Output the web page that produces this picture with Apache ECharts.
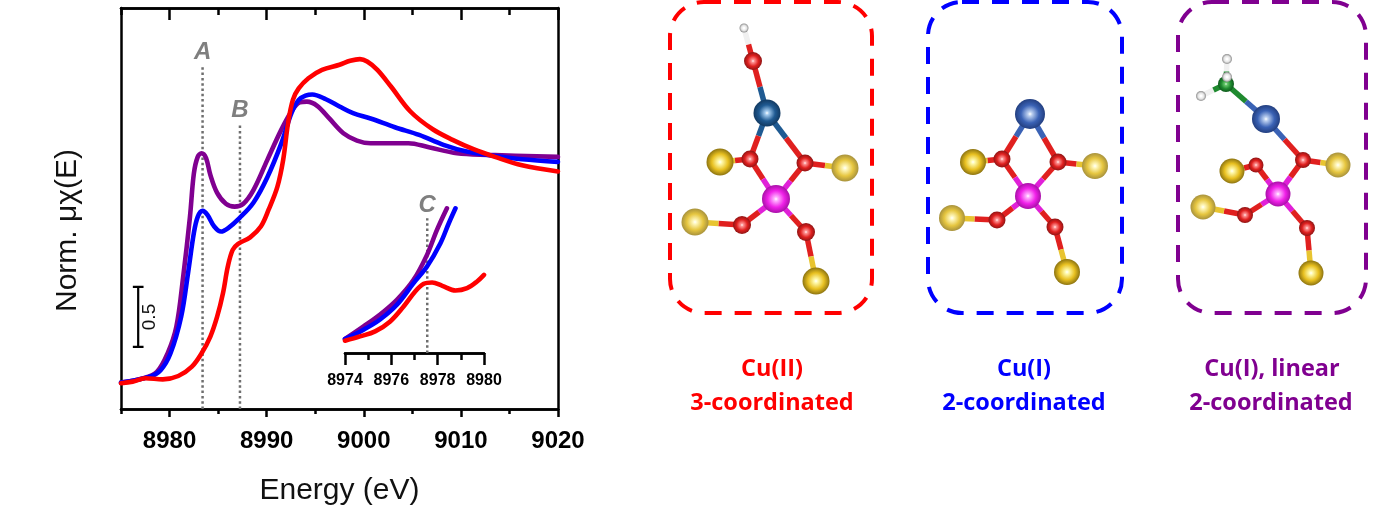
<!DOCTYPE html>
<html>
<head>
<meta charset="utf-8">
<title>Cu K-edge XANES</title>
<script src="https://cdn.jsdelivr.net/npm/echarts@6/dist/echarts.min.js"></script>
<style>
html, body { margin: 0; padding: 0; background: #fff; }
#chart { width: 1390px; height: 511px; }
</style>
</head>
<body>
<div id="chart"></div>
<script>
// main spectra, [energy eV, normalised absorption]
var redCurve = [[8975,0.214],[8976.2,0.228],[8977.5,0.256],[8979.3,0.247],[8980.9,0.275],[8982.3,0.353],[8983.3,0.464],[8984.2,0.603],[8984.9,0.769],[8985.5,0.964],[8986,1.186],[8986.5,1.325],[8987.06,1.375],[8988.3,1.43],[8989.4,1.52],[8990.2,1.66],[8991.1,1.85],[8991.7,2.075],[8992.2,2.38],[8992.7,2.575],[8993.3,2.67],[8994.3,2.755],[8995.7,2.825],[8997.5,2.867],[8998.6,2.9],[8999.6,2.914],[9000.35,2.894],[9001.4,2.825],[9002.8,2.686],[9004.8,2.478],[9007.1,2.33],[9009.2,2.24],[9011.3,2.164],[9013.5,2.1],[9016.3,2.03],[9020,1.978]];
var blueCurve = [[8975,0.22],[8978,0.27],[8979.1,0.325],[8980.1,0.464],[8981.2,0.77],[8981.9,1.13],[8982.5,1.464],[8982.9,1.6],[8983.4,1.65],[8983.9,1.617],[8984.6,1.52],[8985.3,1.478],[8986,1.505],[8987.2,1.59],[8988.65,1.72],[8990.07,1.93],[8991.5,2.21],[8992.55,2.464],[8993.3,2.575],[8994,2.61],[8994.7,2.62],[8996.1,2.58],[8997.5,2.52],[8998.9,2.464],[9000.7,2.42],[9003.2,2.347],[9005.7,2.283],[9008.2,2.2],[9010.6,2.144],[9013.5,2.108],[9016.3,2.08],[9020,2.058]];
var purpleCurve = [[8975,0.22],[8977.3,0.256],[8978.7,0.31],[8979.8,0.464],[8980.7,0.686],[8981.4,1.1],[8982.1,1.6],[8982.5,1.96],[8982.9,2.1],[8983.3,2.13],[8983.76,2.09],[8984.2,1.95],[8984.9,1.8],[8985.8,1.71],[8986.7,1.686],[8987.6,1.71],[8988.65,1.825],[8990.07,2.075],[8991.5,2.325],[8992.55,2.478],[8993.4,2.553],[8994.15,2.56],[8995.2,2.525],[8996.45,2.42],[8997.9,2.297],[8999.3,2.236],[9000.7,2.214],[9004.6,2.214],[9006.7,2.18],[9009.6,2.13],[9012.8,2.117],[9020,2.1]];

// inset, pre-edge region
var redInset = [[8974,0.37],[8974.65,0.5],[8975.3,0.65],[8975.95,0.95],[8976.53,1.4],[8977.03,1.85],[8977.4,2.08],[8977.76,2.12],[8978.2,2.02],[8978.77,1.88],[8979.27,1.95],[8979.7,2.15],[8980,2.35]];
var blueInset = [[8974,0.42],[8974.8,0.7],[8975.5,1],[8976.24,1.45],[8976.96,2.1],[8977.54,2.6],[8978.12,3.3],[8978.48,3.9],[8978.77,4.35]];
var purpleInset = [[8974,0.42],[8974.8,0.8],[8975.5,1.15],[8976.24,1.6],[8976.96,2.2],[8977.54,2.95],[8977.97,3.7],[8978.4,4.35]];

var xMajor = [8980, 8990, 9000, 9010, 9020];
var xMinor = [8975, 8985, 8995, 9005, 9015];
var insetMajor = [8974, 8976, 8978, 8980];
var insetMinor = [8975, 8977, 8979];

var lineA = [[8983.4, 0], [8983.4, 2.858]];
var lineB = [[8987.25, 0], [8987.25, 2.375]];
var lineC = [[8977.55, 0], [8977.55, 4.05]];

var scaleX = 8976.77;
var scaleTop = 1.017;
var scaleBottom = 0.517;
var scaleCap = 0.55;

var RED = '#ff0000', BLUE = '#0000ff', PURPLE = '#800090';
var GREY = '#7f7f7f';
var ARIAL = '"Liberation Sans", Arial, sans-serif';

var chart = echarts.init(document.getElementById('chart'));

function curve(data, color, width, xi, yi, z) {
    return {
        type: 'line', data: data, xAxisIndex: xi, yAxisIndex: yi,
        smooth: 0.35, showSymbol: false, silent: true, z: z,
        lineStyle: { color: color, width: width, cap: 'round' }
    };
}

function guide(data, letter, xi, yi) {
    return {
        type: 'line', data: data, xAxisIndex: xi, yAxisIndex: yi,
        symbol: 'none', silent: true, z: 1,
        lineStyle: { color: '#6e6e6e', width: 2.5, type: [2.5, 2.8] },
        markPoint: {
            symbol: 'circle', symbolSize: 0, silent: true,
            data: [{
                coord: data[1],
                label: {
                    show: true, position: 'top', distance: 1, formatter: letter,
                    color: GREY, fontFamily: ARIAL, fontSize: 24,
                    fontWeight: 'bold', fontStyle: 'italic'
                }
            }]
        }
    };
}

function xAxisCfg(grid, pos, ticks, len, inside, labels, min, max) {
    var cfg = {
        type: 'value', gridIndex: grid, position: pos, min: min, max: max,
        interval: 1, splitLine: { show: false },
        axisLine: { show: true, onZero: false, lineStyle: { color: '#000', width: 2.5 } },
        axisTick: {
            show: true, inside: inside, length: len, customValues: ticks,
            lineStyle: { color: '#000', width: 2.5 }
        },
        axisLabel: { show: false }
    };
    if (labels) cfg.axisLabel = labels;
    return cfg;
}

function plain(v) { return String(v); }

var mainLabels = {
    show: true, customValues: xMajor, margin: 20, color: '#000',
    fontFamily: ARIAL, fontSize: 24, fontWeight: 'bold', formatter: plain,
    alignMinLabel: 'center', alignMaxLabel: 'center', hideOverlap: false
};
var insetLabels = {
    show: true, customValues: insetMajor, margin: 20, color: '#000',
    fontFamily: ARIAL, fontSize: 16, fontWeight: 'bold', formatter: plain,
    alignMinLabel: 'center', alignMaxLabel: 'center', hideOverlap: false
};

// structure drawings
var ATOMS = {
    H: ['#ffffff', '#e4e4e4', '#8c8c8c'],
    O: ['#ff9a9a', '#e0201f', '#8f1414'],
    Si: ['#fffbb0', '#e8c020', '#8d7410'],
    Si2: ['#fff8c0', '#e6c640', '#a8923c'],
    Al: ['#ffb0ff', '#f020e8', '#a810a8'],
    Cu: ['#bcd0f0', '#3a62b5', '#233f80'],
    Cu2: ['#a6cdf0', '#1f5a92', '#123a62'],
    C: ['#6ccc70', '#1f8a2f', '#0f5a1c']
};
var BOND = { H: '#f0f0f0', O: '#e0201f', Si: '#e8c430', Si2: '#e8c430', Al: '#e020d8', Cu: '#3a62b5', Cu2: '#1f5a92', C: '#1f8a2f' };

var panels = [
    {
        color: RED, box: [670, 2, 202, 311],
        lines: [['Cu(II)', 772, 369], ['3-coordinated', 772, 403]],
        atoms: [['H',744,28,4.5],['O',753,61,9],['Cu2',767,113,13.5],['O',750,159,8.5],['O',805,163,8.5],['Si',720,162,13.5],['Si2',845,168,13.5],['Al',776,199,14],['O',742,225,9],['Si2',695,222,13.5],['O',806,232,9],['Si',816,281,13.5]],
        bonds: [[0,1],[1,2],[2,3],[2,4],[3,5],[4,6],[3,7],[4,7],[7,8],[7,10],[8,9],[10,11]]
    },
    {
        color: BLUE, box: [928, 2, 194, 311],
        lines: [['Cu(I)', 1024, 369], ['2-coordinated', 1024, 403]],
        atoms: [['Cu',1030,114,15],['O',1002,159,8.5],['O',1058,162,8.5],['Si',973,162,13],['Si2',1095,166,13],['Al',1028,196,13],['O',997,220,8.5],['Si2',952,218,13],['O',1055,227,8.5],['Si',1067,272,13]],
        bonds: [[0,1],[0,2],[1,3],[2,4],[1,5],[2,5],[5,6],[5,8],[6,7],[8,9]]
    },
    {
        color: PURPLE, box: [1178, 2, 188, 311],
        lines: [['Cu(I), linear', 1272, 369], ['2-coordinated', 1271, 403]],
        atoms: [['H',1227,59,5],['H',1201,96,5],['C',1226,84,8],['H',1227,77,5],['Cu',1266,119,14],['O',1303,160,8],['Si2',1338,165,12.5],['Si',1232,171,12.5],['O',1256,165,7.5],['Al',1278,194,12.5],['O',1245,215,8],['Si2',1203,207,12.5],['O',1307,228,8],['Si',1311,273,12.5]],
        bonds: [[0,2],[1,2],[2,4],[4,5],[5,6],[8,7],[8,9],[5,9],[9,10],[9,12],[10,11],[12,13]]
    }
];

var shapes = [];

function bond(a, b) {
    var mx = (a[1] + b[1]) / 2, my = (a[2] + b[2]) / 2;
    [[a, mx, my], [b, mx, my]].forEach(function (s) {
        shapes.push({
            type: 'line', silent: true, z: 10,
            shape: { x1: s[0][1], y1: s[0][2], x2: s[1], y2: s[2] },
            style: { stroke: BOND[s[0][0]], lineWidth: 5.5 }
        });
    });
}

function atom(a) {
    var c = ATOMS[a[0]];
    shapes.push({
        type: 'circle', silent: true, z: 11,
        shape: { cx: a[1], cy: a[2], r: a[3] },
        style: {
            fill: new echarts.graphic.RadialGradient(0.5, 0.5, 0.5, [
                { offset: 0, color: '#ffffff' },
                { offset: 0.14, color: c[0] },
                { offset: 0.6, color: c[1] },
                { offset: 1, color: c[2] }
            ])
        }
    });
}

panels.forEach(function (p) {
    shapes.push({
        type: 'rect', silent: true, z: 9,
        shape: { x: p.box[0], y: p.box[1], width: p.box[2], height: p.box[3], r: 34 },
        style: { fill: 'none', stroke: p.color, lineWidth: 4, lineDash: [17, 13] }
    });
    p.bonds.forEach(function (b) { bond(p.atoms[b[0]], p.atoms[b[1]]); });
    p.atoms.forEach(atom);
    p.lines.forEach(function (l) {
        shapes.push({
            type: 'text', silent: true, z: 12, x: l[1], y: l[2],
            style: {
                text: l[0], fill: p.color, align: 'center', verticalAlign: 'middle',
                fontFamily: '"Open Sans", sans-serif', fontSize: 23.5, fontWeight: 'bold'
            }
        });
    });
});

shapes.push({
    type: 'text', silent: true, z: 12, x: 150, y: 317, rotation: Math.PI / 2,
    style: {
        text: '0.5', fill: '#111', align: 'center', verticalAlign: 'middle',
        fontFamily: ARIAL, fontSize: 19
    }
});

var option = {
    animation: false,
    backgroundColor: '#fff',
    grid: [
        { left: 121, top: 8, width: 437, height: 401, outerBoundsMode: 'none' },
        { left: 345, top: 200, width: 139, height: 153, outerBoundsMode: 'none' }
    ],
    xAxis: [
        Object.assign(xAxisCfg(0, 'bottom', xMajor, 8, false, mainLabels, 8975, 9020), {
            name: 'Energy (eV)', nameLocation: 'middle', nameGap: 67,
            nameTextStyle: { color: '#111', fontFamily: ARIAL, fontSize: 30 }
        }),
        xAxisCfg(0, 'bottom', xMinor, 5, false, null, 8975, 9020),
        xAxisCfg(0, 'top', xMajor, 12, true, null, 8975, 9020),
        xAxisCfg(0, 'top', xMinor, 7, true, null, 8975, 9020),
        xAxisCfg(1, 'bottom', insetMajor, 12, false, insetLabels, 8974, 8980),
        xAxisCfg(1, 'bottom', insetMinor, 7, false, null, 8974, 8980)
    ],
    yAxis: [
        {
            type: 'value', gridIndex: 0, position: 'left', min: 0, max: 3.34,
            name: 'Norm. μχ(E)', nameLocation: 'middle', nameGap: 38,
            nameTextStyle: { color: '#111', fontFamily: ARIAL, fontSize: 30, padding: [0, 44, 0, 0] },
            axisLine: { show: true, onZero: false, lineStyle: { color: '#000', width: 2.5 } },
            axisTick: { show: false }, axisLabel: { show: false }, splitLine: { show: false }
        },
        {
            type: 'value', gridIndex: 0, position: 'right', min: 0, max: 3.34,
            axisLine: { show: true, onZero: false, lineStyle: { color: '#000', width: 2.5 } },
            axisTick: { show: false }, axisLabel: { show: false }, splitLine: { show: false }
        },
        {
            type: 'value', gridIndex: 1, min: 0, max: 4.6, show: false
        }
    ],
    graphic: shapes,
    series: [
        guide(lineA, 'A', 0, 0),
        guide(lineB, 'B', 0, 0),
        guide(lineC, 'C', 4, 2),
        curve(purpleCurve, PURPLE, 4.6, 0, 0, 3),
        curve(blueCurve, BLUE, 4.6, 0, 0, 4),
        curve(redCurve, RED, 4.6, 0, 0, 5),
        curve(purpleInset, PURPLE, 4.6, 4, 2, 3),
        curve(blueInset, BLUE, 4.6, 4, 2, 4),
        curve(redInset, RED, 4.6, 4, 2, 5),
        {
            type: 'line', xAxisIndex: 0, yAxisIndex: 0, symbol: 'none', silent: true, z: 3,
            data: [
                [scaleX - scaleCap, scaleTop], [scaleX + scaleCap, scaleTop], [scaleX, scaleTop],
                [scaleX, scaleBottom], [scaleX - scaleCap, scaleBottom], [scaleX + scaleCap, scaleBottom]
            ],
            lineStyle: { color: '#000', width: 2.2 }
        }
    ]
};

chart.setOption(option);
</script>
</body>
</html>
